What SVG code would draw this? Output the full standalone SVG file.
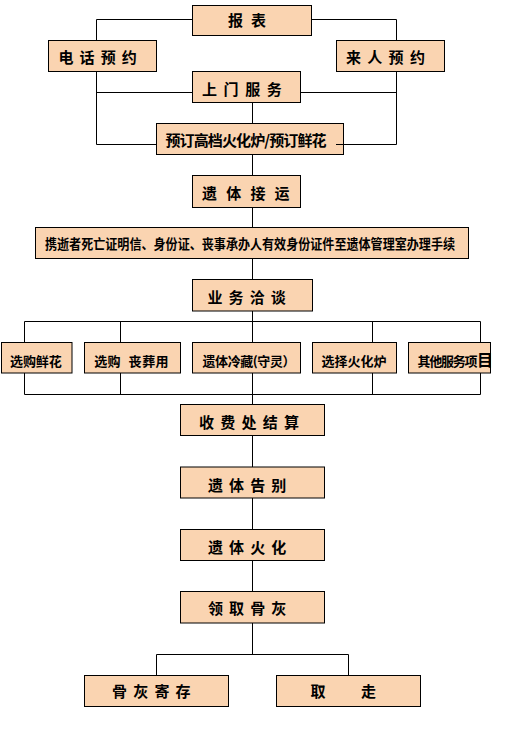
<svg xmlns="http://www.w3.org/2000/svg" width="507" height="750" viewBox="0 0 507 750">
<style>
.box{fill:#FAD4B1;stroke:#000;stroke-width:1}
.t{font-family:"Noto Sans CJK SC","Noto Sans CJK JP",sans-serif;font-weight:bold;fill:#000;dominant-baseline:central}
.m{font-size:15px}
.s{font-size:13px}
.c{fill:none;stroke:#000;stroke-width:1}
</style>
<rect width="507" height="750" fill="#fff"/>
<g id="nodes">
<g id="n-baobiao"><rect class="box" x="192.5" y="5.5" width="119" height="30"/><text class="t m" x="228 251" y="19.5">报表</text></g>
<g id="n-dianhua"><rect class="box" x="48.5" y="40.5" width="108" height="31"/><text class="t m" x="58.5 79.6 100.7 121.8" y="56.5">电话预约</text></g>
<g id="n-lairen"><rect class="box" x="336.5" y="40.5" width="108" height="31"/><text class="t m" x="346 367.3 388.6 410" y="56.5">来人预约</text></g>
<g id="n-shangmen"><rect class="box" x="192.5" y="71.5" width="108" height="31"/><text class="t m" x="202 223.6 245.2 266.8" y="88.5">上门服务</text></g>
<g id="n-yuding"><rect class="box" x="156.5" y="123.5" width="187" height="31"/><text class="t m" x="165.5" y="139.5" textLength="161">预订高档火化炉/预订鲜花</text></g>
<g id="n-jieyun"><rect class="box" x="192.5" y="175.5" width="108" height="32"/><text class="t m" x="202 226.2 250.4 274.6" y="192">遗体接运</text></g>
<g id="n-shouxu"><rect class="box" x="35.5" y="227.5" width="433" height="31"/><text class="t" font-size="13.5" x="45" y="242.5" textLength="410" lengthAdjust="spacingAndGlyphs">携逝者死亡证明信、身份证、丧事承办人有效身份证件至遗体管理室办理手续</text></g>
<g id="n-qiatan"><rect class="box" x="192.5" y="279.5" width="120" height="31.5"/><text class="t m" x="207.5 228.6 249.7 270.8" y="296">业务洽谈</text></g>
<g id="n-xianhua"><rect class="box" x="1.5" y="342.5" width="70.5" height="30.5"/><text class="t s" x="10 22.9 35.8 48.7" y="360">选购鲜花</text></g>
<g id="n-sangzang"><rect class="box" x="84.5" y="342.5" width="96" height="30.5"/><text class="t s" x="94.3 107.5 128.5 142.3 155.5" y="360">选购丧葬用</text></g>
<g id="n-lengcang"><rect class="box" x="192.5" y="342.5" width="108" height="30.5"/><text class="t s" x="202.5" y="360" textLength="93">遗体冷藏(守灵）</text></g>
<g id="n-huohualu"><rect class="box" x="312.5" y="342.5" width="84" height="30.5"/><text class="t s" x="321.5" y="360" textLength="65">选择火化炉</text></g>
<g id="n-qita"><rect class="box" x="408.5" y="342.5" width="82" height="30.5"/><text class="t s" x="417.5" y="360" textLength="60">其他服务项</text><text class="t" font-size="16" x="477" y="358.5">目</text></g>
<g id="n-shoufei"><rect class="box" x="180.5" y="404.5" width="144" height="31"/><text class="t m" x="199 220.25 241.5 262.75 284" y="421">收费处结算</text></g>
<g id="n-gaobie"><rect class="box" x="180.5" y="467" width="144" height="31"/><text class="t m" x="208 229.1 250.2 271.3" y="484">遗体告别</text></g>
<g id="n-huohua"><rect class="box" x="180.5" y="529.5" width="144" height="31"/><text class="t m" x="208 229.1 250.2 271.3" y="546">遗体火化</text></g>
<g id="n-lingqu"><rect class="box" x="180.5" y="591.5" width="144" height="31.5"/><text class="t m" x="208 229.1 250.2 271.3" y="607.8">领取骨灰</text></g>
<g id="n-jicun"><rect class="box" x="84.5" y="675.5" width="144" height="31"/><text class="t m" x="112 133.2 154.4 175.6" y="690.8">骨灰寄存</text></g>
<g id="n-quzou"><rect class="box" x="276.5" y="675.5" width="144" height="31"/><text class="t m" x="310.5 361" y="690.8">取走</text></g>
</g>
<g id="connectors">
<path class="c" d="M192.5 19.5H96.5V40.5"/>
<path class="c" d="M311.5 19.5H396.5V40.5"/>
<path class="c" d="M96.5 71.5V144.5H156.5M96.5 92.5H192.5"/>
<path class="c" d="M396.5 71.5V144.5H336M396.5 92.5H300.5"/>
<path class="c" d="M252.5 102.5V123.5M252.5 154.5V175.5M252.5 207.5V227.5M252.5 258.5V279.5M252.5 311V342.5"/>
<path class="c" d="M24.5 342.5V321.5H480.5V342.5M120.5 321.5V342.5M372.5 321.5V342.5"/>
<path class="c" d="M24.5 373V394.5H480.5V373M120.5 373V394.5M372.5 373V394.5M252.5 373V404.5"/>
<path class="c" d="M252.5 435.5V467M252.5 498V529.5M252.5 560.5V591.5M252.5 623V654.5"/>
<path class="c" d="M156.5 675.5V654.5H348.5V675.5"/>
</g>
</svg>
